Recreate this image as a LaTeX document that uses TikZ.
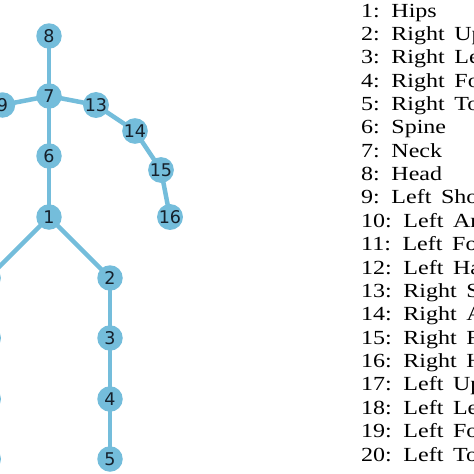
\documentclass[tikz,border=0pt]{standalone}
\usepackage{fontspec}
\usepackage{tikz}
\newfontfamily\keyfont[FakeStretch=1.2, WordSpace=1.6]{Liberation Serif}
\newfontfamily\jointfont{DejaVu Sans}
\usetikzlibrary{
  positioning,
  backgrounds
}
\definecolor{skJoint}{HTML}{74BDDB}
\definecolor{skText}{HTML}{15202B}
\tikzset{
  joint/.style={
    circle, fill=skJoint, minimum size=25.5pt, inner sep=0pt,
    font=\jointfont\fontsize{17.5}{17.5}\selectfont, text=skText
  },
  bone/.style={skJoint, line width=4.5pt, shorten <=-3pt, shorten >=-3pt},
  keyline/.style={anchor=base west, inner sep=0pt, font=\keyfont\fontsize{20}{20}\selectfont}
}

\begin{document}
\begin{tikzpicture}[x=1pt, y=-1pt]
  \useasboundingbox (0,0) rectangle (474,474);
  \clip (0,0) rectangle (474,474);
  \node[joint] (j1) at (49,217) {1};
  \node[joint] (j2) at (110,278) {2};
  \node[joint] (j3) at (110,338) {3};
  \node[joint] (j4) at (110,399) {4};
  \node[joint] (j5) at (110,459) {5};
  \node[joint] (j6) at (49,156) {6};
  \node[joint] (j7) at (49,96) {7};
  \node[joint] (j8) at (49,36) {8};
  \node[joint] (j9) at (2.5,105) {9};
  \node[joint] (j13) at (96,105) {13};
  \node[joint] (j14) at (135,131) {14};
  \node[joint] (j15) at (161,170) {15};
  \node[joint] (j16) at (170,217) {16};
  \node[joint] (j17) at (-12,278) {17};
  \node[joint] (j18) at (-12,338) {18};
  \node[joint] (j19) at (-12,399) {19};
  \node[joint] (j20) at (-12,459) {20};
  \begin{scope}[on background layer]
    \draw[bone] (j1) -- (j2); \draw[bone] (j2) -- (j3);
    \draw[bone] (j3) -- (j4); \draw[bone] (j4) -- (j5);
    \draw[bone] (j1) -- (j6); \draw[bone] (j6) -- (j7);
    \draw[bone] (j7) -- (j8); \draw[bone] (j7) -- (j9);
    \draw[bone] (j7) -- (j13); \draw[bone] (j13) -- (j14);
    \draw[bone] (j14) -- (j15); \draw[bone] (j15) -- (j16);
    \draw[bone] (j1) -- (j17); \draw[bone] (j17) -- (j18);
    \draw[bone] (j18) -- (j19); \draw[bone] (j19) -- (j20);
  \end{scope}
  \foreach \i/\part in {1/Hips, 2/Right UpLeg, 3/Right Leg, 4/Right Foot,
      5/Right Toe, 6/Spine, 7/Neck, 8/Head, 9/Left Shoulder, 10/Left Arm,
      11/Left ForeArm, 12/Left Hand, 13/Right Shoulder, 14/Right Arm,
      15/Right ForeArm, 16/Right Hand, 17/Left UpLeg, 18/Left Leg,
      19/Left Foot, 20/Left Toe}
    \node[keyline] (key\i) at (361,{17+23.37*(\i-1)}) {\i: \part};
\end{tikzpicture}
\end{document}
